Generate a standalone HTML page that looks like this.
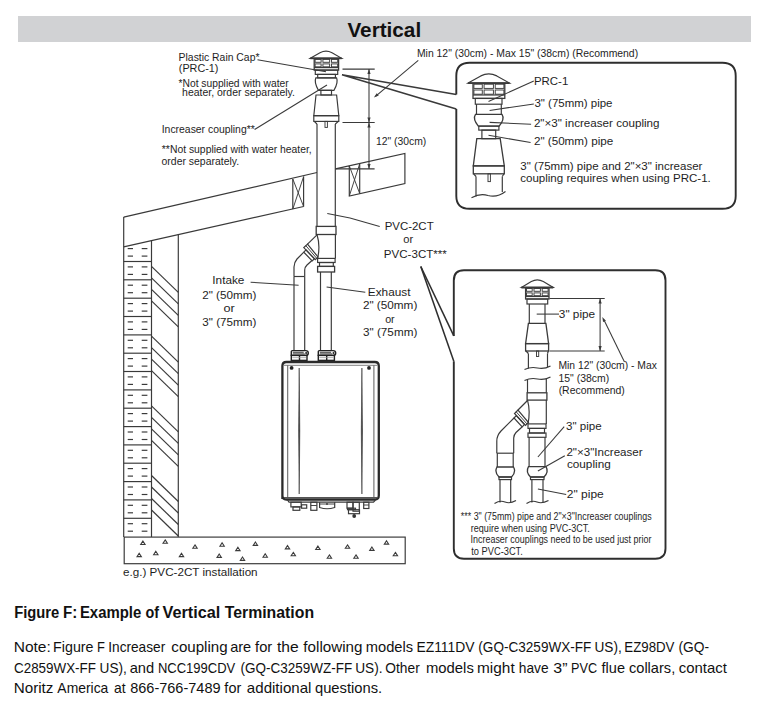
<!DOCTYPE html>
<html><head><meta charset="utf-8"><style>
html,body{margin:0;padding:0;background:#fff;}
svg{display:block;font-family:"Liberation Sans",sans-serif;}
</style></head><body>
<svg width="768" height="707" viewBox="0 0 768 707">
<rect x="18" y="16" width="733" height="26" fill="#d1d2d4"/>
<polyline points="123.7,217.1 317,172.5" stroke="#3a3a3a" stroke-width="1.18" fill="none" stroke-linejoin="miter"/>
<polyline points="123.7,246.8 303.6,206.5" stroke="#3a3a3a" stroke-width="1.18" fill="none" stroke-linejoin="miter"/>
<polyline points="292.8,179 292.8,209.1" stroke="#3a3a3a" stroke-width="1.18" fill="none" stroke-linejoin="miter"/>
<polyline points="303.6,176.6 303.6,206.5" stroke="#3a3a3a" stroke-width="1.18" fill="none" stroke-linejoin="miter"/>
<line x1="292.8" y1="179" x2="303.6" y2="206.5" stroke="#3a3a3a" stroke-width="0.94"/>
<line x1="303.6" y1="176.6" x2="292.8" y2="209.1" stroke="#3a3a3a" stroke-width="0.94"/>
<polyline points="335.4,168.9 404.9,153.4 404.9,183.5 349.3,196 349.3,165.9" stroke="#3a3a3a" stroke-width="1.18" fill="none" stroke-linejoin="miter"/>
<polyline points="359.7,163.8 359.7,193.5" stroke="#3a3a3a" stroke-width="1.18" fill="none" stroke-linejoin="miter"/>
<line x1="349.3" y1="165.9" x2="359.7" y2="193.5" stroke="#3a3a3a" stroke-width="0.94"/>
<line x1="359.7" y1="163.8" x2="349.3" y2="196" stroke="#3a3a3a" stroke-width="0.94"/>
<line x1="123.7" y1="217.1" x2="123.7" y2="537.1" stroke="#3a3a3a" stroke-width="1.18"/>
<line x1="151.5" y1="240.6" x2="151.5" y2="537.1" stroke="#3a3a3a" stroke-width="1.18"/>
<line x1="178.3" y1="234.6" x2="178.3" y2="537.1" stroke="#3a3a3a" stroke-width="1.18"/>
<line x1="123.7" y1="261.5" x2="151.5" y2="261.5" stroke="#3a3a3a" stroke-width="1.18"/>
<line x1="123.7" y1="279.8" x2="151.5" y2="279.8" stroke="#3a3a3a" stroke-width="1.18"/>
<line x1="123.7" y1="298.2" x2="151.5" y2="298.2" stroke="#3a3a3a" stroke-width="1.18"/>
<line x1="123.7" y1="316.5" x2="151.5" y2="316.5" stroke="#3a3a3a" stroke-width="1.18"/>
<line x1="123.7" y1="334.9" x2="151.5" y2="334.9" stroke="#3a3a3a" stroke-width="1.18"/>
<line x1="123.7" y1="353.2" x2="151.5" y2="353.2" stroke="#3a3a3a" stroke-width="1.18"/>
<line x1="123.7" y1="371.5" x2="151.5" y2="371.5" stroke="#3a3a3a" stroke-width="1.18"/>
<line x1="123.7" y1="389.9" x2="151.5" y2="389.9" stroke="#3a3a3a" stroke-width="1.18"/>
<line x1="123.7" y1="408.2" x2="151.5" y2="408.2" stroke="#3a3a3a" stroke-width="1.18"/>
<line x1="123.7" y1="426.6" x2="151.5" y2="426.6" stroke="#3a3a3a" stroke-width="1.18"/>
<line x1="123.7" y1="444.9" x2="151.5" y2="444.9" stroke="#3a3a3a" stroke-width="1.18"/>
<line x1="123.7" y1="463.2" x2="151.5" y2="463.2" stroke="#3a3a3a" stroke-width="1.18"/>
<line x1="123.7" y1="481.6" x2="151.5" y2="481.6" stroke="#3a3a3a" stroke-width="1.18"/>
<line x1="123.7" y1="499.9" x2="151.5" y2="499.9" stroke="#3a3a3a" stroke-width="1.18"/>
<line x1="123.7" y1="518.3" x2="151.5" y2="518.3" stroke="#3a3a3a" stroke-width="1.18"/>
<line x1="127.7" y1="248.6" x2="133" y2="248.6" stroke="#3a3a3a" stroke-width="1.18"/>
<line x1="141.7" y1="248.6" x2="147.4" y2="248.6" stroke="#3a3a3a" stroke-width="1.18"/>
<line x1="127.7" y1="256.1" x2="133" y2="256.1" stroke="#3a3a3a" stroke-width="1.18"/>
<line x1="141.7" y1="256.1" x2="147.4" y2="256.1" stroke="#3a3a3a" stroke-width="1.18"/>
<line x1="127.7" y1="266.9" x2="133" y2="266.9" stroke="#3a3a3a" stroke-width="1.18"/>
<line x1="141.7" y1="266.9" x2="147.4" y2="266.9" stroke="#3a3a3a" stroke-width="1.18"/>
<line x1="127.7" y1="274.4" x2="133" y2="274.4" stroke="#3a3a3a" stroke-width="1.18"/>
<line x1="141.7" y1="274.4" x2="147.4" y2="274.4" stroke="#3a3a3a" stroke-width="1.18"/>
<line x1="127.7" y1="285.2" x2="133" y2="285.2" stroke="#3a3a3a" stroke-width="1.18"/>
<line x1="141.7" y1="285.2" x2="147.4" y2="285.2" stroke="#3a3a3a" stroke-width="1.18"/>
<line x1="127.7" y1="292.7" x2="133" y2="292.7" stroke="#3a3a3a" stroke-width="1.18"/>
<line x1="141.7" y1="292.7" x2="147.4" y2="292.7" stroke="#3a3a3a" stroke-width="1.18"/>
<line x1="127.7" y1="303.6" x2="133" y2="303.6" stroke="#3a3a3a" stroke-width="1.18"/>
<line x1="141.7" y1="303.6" x2="147.4" y2="303.6" stroke="#3a3a3a" stroke-width="1.18"/>
<line x1="127.7" y1="311.1" x2="133" y2="311.1" stroke="#3a3a3a" stroke-width="1.18"/>
<line x1="141.7" y1="311.1" x2="147.4" y2="311.1" stroke="#3a3a3a" stroke-width="1.18"/>
<line x1="127.7" y1="321.9" x2="133" y2="321.9" stroke="#3a3a3a" stroke-width="1.18"/>
<line x1="141.7" y1="321.9" x2="147.4" y2="321.9" stroke="#3a3a3a" stroke-width="1.18"/>
<line x1="127.7" y1="329.4" x2="133" y2="329.4" stroke="#3a3a3a" stroke-width="1.18"/>
<line x1="141.7" y1="329.4" x2="147.4" y2="329.4" stroke="#3a3a3a" stroke-width="1.18"/>
<line x1="127.7" y1="340.3" x2="133" y2="340.3" stroke="#3a3a3a" stroke-width="1.18"/>
<line x1="141.7" y1="340.3" x2="147.4" y2="340.3" stroke="#3a3a3a" stroke-width="1.18"/>
<line x1="127.7" y1="347.8" x2="133" y2="347.8" stroke="#3a3a3a" stroke-width="1.18"/>
<line x1="141.7" y1="347.8" x2="147.4" y2="347.8" stroke="#3a3a3a" stroke-width="1.18"/>
<line x1="127.7" y1="358.6" x2="133" y2="358.6" stroke="#3a3a3a" stroke-width="1.18"/>
<line x1="141.7" y1="358.6" x2="147.4" y2="358.6" stroke="#3a3a3a" stroke-width="1.18"/>
<line x1="127.7" y1="366.1" x2="133" y2="366.1" stroke="#3a3a3a" stroke-width="1.18"/>
<line x1="141.7" y1="366.1" x2="147.4" y2="366.1" stroke="#3a3a3a" stroke-width="1.18"/>
<line x1="127.7" y1="376.9" x2="133" y2="376.9" stroke="#3a3a3a" stroke-width="1.18"/>
<line x1="141.7" y1="376.9" x2="147.4" y2="376.9" stroke="#3a3a3a" stroke-width="1.18"/>
<line x1="127.7" y1="384.4" x2="133" y2="384.4" stroke="#3a3a3a" stroke-width="1.18"/>
<line x1="141.7" y1="384.4" x2="147.4" y2="384.4" stroke="#3a3a3a" stroke-width="1.18"/>
<line x1="127.7" y1="395.3" x2="133" y2="395.3" stroke="#3a3a3a" stroke-width="1.18"/>
<line x1="141.7" y1="395.3" x2="147.4" y2="395.3" stroke="#3a3a3a" stroke-width="1.18"/>
<line x1="127.7" y1="402.8" x2="133" y2="402.8" stroke="#3a3a3a" stroke-width="1.18"/>
<line x1="141.7" y1="402.8" x2="147.4" y2="402.8" stroke="#3a3a3a" stroke-width="1.18"/>
<line x1="127.7" y1="413.6" x2="133" y2="413.6" stroke="#3a3a3a" stroke-width="1.18"/>
<line x1="141.7" y1="413.6" x2="147.4" y2="413.6" stroke="#3a3a3a" stroke-width="1.18"/>
<line x1="127.7" y1="421.1" x2="133" y2="421.1" stroke="#3a3a3a" stroke-width="1.18"/>
<line x1="141.7" y1="421.1" x2="147.4" y2="421.1" stroke="#3a3a3a" stroke-width="1.18"/>
<line x1="127.7" y1="432.0" x2="133" y2="432.0" stroke="#3a3a3a" stroke-width="1.18"/>
<line x1="141.7" y1="432.0" x2="147.4" y2="432.0" stroke="#3a3a3a" stroke-width="1.18"/>
<line x1="127.7" y1="439.5" x2="133" y2="439.5" stroke="#3a3a3a" stroke-width="1.18"/>
<line x1="141.7" y1="439.5" x2="147.4" y2="439.5" stroke="#3a3a3a" stroke-width="1.18"/>
<line x1="127.7" y1="450.3" x2="133" y2="450.3" stroke="#3a3a3a" stroke-width="1.18"/>
<line x1="141.7" y1="450.3" x2="147.4" y2="450.3" stroke="#3a3a3a" stroke-width="1.18"/>
<line x1="127.7" y1="457.8" x2="133" y2="457.8" stroke="#3a3a3a" stroke-width="1.18"/>
<line x1="141.7" y1="457.8" x2="147.4" y2="457.8" stroke="#3a3a3a" stroke-width="1.18"/>
<line x1="127.7" y1="468.6" x2="133" y2="468.6" stroke="#3a3a3a" stroke-width="1.18"/>
<line x1="141.7" y1="468.6" x2="147.4" y2="468.6" stroke="#3a3a3a" stroke-width="1.18"/>
<line x1="127.7" y1="476.1" x2="133" y2="476.1" stroke="#3a3a3a" stroke-width="1.18"/>
<line x1="141.7" y1="476.1" x2="147.4" y2="476.1" stroke="#3a3a3a" stroke-width="1.18"/>
<line x1="127.7" y1="487.0" x2="133" y2="487.0" stroke="#3a3a3a" stroke-width="1.18"/>
<line x1="141.7" y1="487.0" x2="147.4" y2="487.0" stroke="#3a3a3a" stroke-width="1.18"/>
<line x1="127.7" y1="494.5" x2="133" y2="494.5" stroke="#3a3a3a" stroke-width="1.18"/>
<line x1="141.7" y1="494.5" x2="147.4" y2="494.5" stroke="#3a3a3a" stroke-width="1.18"/>
<line x1="127.7" y1="505.3" x2="133" y2="505.3" stroke="#3a3a3a" stroke-width="1.18"/>
<line x1="141.7" y1="505.3" x2="147.4" y2="505.3" stroke="#3a3a3a" stroke-width="1.18"/>
<line x1="127.7" y1="512.8" x2="133" y2="512.8" stroke="#3a3a3a" stroke-width="1.18"/>
<line x1="141.7" y1="512.8" x2="147.4" y2="512.8" stroke="#3a3a3a" stroke-width="1.18"/>
<line x1="127.7" y1="523.7" x2="133" y2="523.7" stroke="#3a3a3a" stroke-width="1.18"/>
<line x1="141.7" y1="523.7" x2="147.4" y2="523.7" stroke="#3a3a3a" stroke-width="1.18"/>
<line x1="127.7" y1="531.2" x2="133" y2="531.2" stroke="#3a3a3a" stroke-width="1.18"/>
<line x1="141.7" y1="531.2" x2="147.4" y2="531.2" stroke="#3a3a3a" stroke-width="1.18"/>
<line x1="151.5" y1="266.4" x2="178.3" y2="292.4" stroke="#3a3a3a" stroke-width="1.18"/>
<line x1="151.5" y1="277.9" x2="178.3" y2="303.9" stroke="#3a3a3a" stroke-width="1.18"/>
<line x1="151.5" y1="289.4" x2="178.3" y2="315.4" stroke="#3a3a3a" stroke-width="1.18"/>
<line x1="151.5" y1="300.9" x2="178.3" y2="326.9" stroke="#3a3a3a" stroke-width="1.18"/>
<line x1="151.5" y1="336.1" x2="178.3" y2="362.1" stroke="#3a3a3a" stroke-width="1.18"/>
<line x1="151.5" y1="347.6" x2="178.3" y2="373.6" stroke="#3a3a3a" stroke-width="1.18"/>
<line x1="151.5" y1="359.1" x2="178.3" y2="385.1" stroke="#3a3a3a" stroke-width="1.18"/>
<line x1="151.5" y1="370.6" x2="178.3" y2="396.6" stroke="#3a3a3a" stroke-width="1.18"/>
<line x1="151.5" y1="405.8" x2="178.3" y2="431.8" stroke="#3a3a3a" stroke-width="1.18"/>
<line x1="151.5" y1="417.3" x2="178.3" y2="443.3" stroke="#3a3a3a" stroke-width="1.18"/>
<line x1="151.5" y1="428.8" x2="178.3" y2="454.8" stroke="#3a3a3a" stroke-width="1.18"/>
<line x1="151.5" y1="440.3" x2="178.3" y2="466.3" stroke="#3a3a3a" stroke-width="1.18"/>
<line x1="151.5" y1="475.5" x2="178.3" y2="501.5" stroke="#3a3a3a" stroke-width="1.18"/>
<line x1="151.5" y1="487.0" x2="178.3" y2="513.0" stroke="#3a3a3a" stroke-width="1.18"/>
<line x1="151.5" y1="498.5" x2="178.3" y2="524.5" stroke="#3a3a3a" stroke-width="1.18"/>
<line x1="151.5" y1="510.0" x2="178.3" y2="536.0" stroke="#3a3a3a" stroke-width="1.18"/>
<rect x="124.2" y="537.1" width="281" height="26.6" rx="0" stroke="#3a3a3a" stroke-width="1.18" fill="none"/>
<polygon points="142.9,541.1 145.1,544.5 140.70000000000002,544.5" stroke="#3a3a3a" stroke-width="1.06" fill="none" stroke-linejoin="miter"/>
<polygon points="165.2,539.9000000000001 167.39999999999998,543.3000000000001 163.0,543.3000000000001" stroke="#3a3a3a" stroke-width="1.06" fill="none" stroke-linejoin="miter"/>
<polygon points="195,544.9000000000001 197.2,548.3000000000001 192.8,548.3000000000001" stroke="#3a3a3a" stroke-width="1.06" fill="none" stroke-linejoin="miter"/>
<polygon points="222.1,542.8000000000001 224.29999999999998,546.2 219.9,546.2" stroke="#3a3a3a" stroke-width="1.06" fill="none" stroke-linejoin="miter"/>
<polygon points="237.9,547.2 240.1,550.6 235.70000000000002,550.6" stroke="#3a3a3a" stroke-width="1.06" fill="none" stroke-linejoin="miter"/>
<polygon points="255.4,541.95 257.6,545.35 253.20000000000002,545.35" stroke="#3a3a3a" stroke-width="1.06" fill="none" stroke-linejoin="miter"/>
<polygon points="139.2,553.2 141.39999999999998,556.6 137.0,556.6" stroke="#3a3a3a" stroke-width="1.06" fill="none" stroke-linejoin="miter"/>
<polygon points="155.8,551.3000000000001 158.0,554.7 153.60000000000002,554.7" stroke="#3a3a3a" stroke-width="1.06" fill="none" stroke-linejoin="miter"/>
<polygon points="181.5,553.2 183.7,556.6 179.3,556.6" stroke="#3a3a3a" stroke-width="1.06" fill="none" stroke-linejoin="miter"/>
<polygon points="219.2,554.0 221.39999999999998,557.4 217.0,557.4" stroke="#3a3a3a" stroke-width="1.06" fill="none" stroke-linejoin="miter"/>
<polygon points="242.5,556.95 244.7,560.35 240.3,560.35" stroke="#3a3a3a" stroke-width="1.06" fill="none" stroke-linejoin="miter"/>
<polygon points="265.2,553.8000000000001 267.4,557.2 263.0,557.2" stroke="#3a3a3a" stroke-width="1.06" fill="none" stroke-linejoin="miter"/>
<polygon points="287.5,545.5 289.7,548.9 285.3,548.9" stroke="#3a3a3a" stroke-width="1.06" fill="none" stroke-linejoin="miter"/>
<polygon points="293.3,552.4000000000001 295.5,555.8000000000001 291.1,555.8000000000001" stroke="#3a3a3a" stroke-width="1.06" fill="none" stroke-linejoin="miter"/>
<polygon points="317.9,546.1 320.09999999999997,549.5 315.7,549.5" stroke="#3a3a3a" stroke-width="1.06" fill="none" stroke-linejoin="miter"/>
<polygon points="329.4,554.9000000000001 331.59999999999997,558.3000000000001 327.2,558.3000000000001" stroke="#3a3a3a" stroke-width="1.06" fill="none" stroke-linejoin="miter"/>
<polygon points="347.5,544.9000000000001 349.7,548.3000000000001 345.3,548.3000000000001" stroke="#3a3a3a" stroke-width="1.06" fill="none" stroke-linejoin="miter"/>
<polygon points="356,554.9000000000001 358.2,558.3000000000001 353.8,558.3000000000001" stroke="#3a3a3a" stroke-width="1.06" fill="none" stroke-linejoin="miter"/>
<polygon points="371.9,546.95 374.09999999999997,550.35 369.7,550.35" stroke="#3a3a3a" stroke-width="1.06" fill="none" stroke-linejoin="miter"/>
<polygon points="386.5,540.7 388.7,544.1 384.3,544.1" stroke="#3a3a3a" stroke-width="1.06" fill="none" stroke-linejoin="miter"/>
<polygon points="395.4,552.4000000000001 397.59999999999997,555.8000000000001 393.2,555.8000000000001" stroke="#3a3a3a" stroke-width="1.06" fill="none" stroke-linejoin="miter"/>
<path d="M310.3,58.3 L320,52.68 Q326,49.56 332,52.68 L341.7,58.3 Z" stroke="#3a3a3a" stroke-width="1.18" fill="none"/>
<line x1="310.3" y1="58.3" x2="341.7" y2="58.3" stroke="#3a3a3a" stroke-width="1.8"/>
<rect x="314.2" y="58.6" width="24.400000000000034" height="11.499999999999993" rx="0" stroke="#3a3a3a" stroke-width="1.3" fill="none"/>
<line x1="314.2" y1="67.6" x2="338.6" y2="67.6" stroke="#3a3a3a" stroke-width="1.18"/>
<rect x="315.1" y="59.4" width="6.01" height="2.9" rx="0" stroke="#3a3a3a" stroke-width="0.94" fill="none"/>
<rect x="315.1" y="63.9" width="6.01" height="2.9" rx="0" stroke="#3a3a3a" stroke-width="0.94" fill="none"/>
<rect x="322.91" y="59.4" width="6.74" height="2.9" rx="0" stroke="#3a3a3a" stroke-width="0.94" fill="none"/>
<rect x="322.91" y="63.9" width="6.74" height="2.9" rx="0" stroke="#3a3a3a" stroke-width="0.94" fill="none"/>
<rect x="331.45" y="59.4" width="6.25" height="2.9" rx="0" stroke="#3a3a3a" stroke-width="0.94" fill="none"/>
<rect x="331.45" y="63.9" width="6.25" height="2.9" rx="0" stroke="#3a3a3a" stroke-width="0.94" fill="none"/>
<rect x="315.3" y="70.1" width="22.4" height="4.3" rx="0" stroke="#3a3a3a" stroke-width="1.18" fill="none"/>
<rect x="317.7" y="74.4" width="17.7" height="3.5" rx="0" stroke="#3a3a3a" stroke-width="1.18" fill="none"/>
<path d="M315.8,77.9 C314.8,80 315,84 318.4,90.3 L334,90.3 C337.4,84 337.6,80 336.6,77.9 Z" stroke="#3a3a3a" stroke-width="1.18" fill="none"/>
<rect x="320.9" y="90.3" width="10.6" height="4.7" rx="0" stroke="#3a3a3a" stroke-width="1.18" fill="none"/>
<polygon points="316,95 336.6,95 338.8,115.7 313.8,115.7" stroke="#3a3a3a" stroke-width="1.18" fill="none" stroke-linejoin="miter"/>
<rect x="313.8" y="115.7" width="25" height="5.7" rx="0" stroke="#3a3a3a" stroke-width="1.18" fill="none"/>
<line x1="317" y1="124" x2="317" y2="226.4" stroke="#3a3a3a" stroke-width="1.18"/>
<line x1="335.3" y1="124" x2="335.3" y2="226.4" stroke="#3a3a3a" stroke-width="1.18"/>
<polyline points="314.2,121.4 317,124" stroke="#3a3a3a" stroke-width="1.18" fill="none" stroke-linejoin="miter"/>
<polyline points="338.4,121.4 335.3,124" stroke="#3a3a3a" stroke-width="1.18" fill="none" stroke-linejoin="miter"/>
<rect x="325" y="121.4" width="2.4" height="6" rx="0" stroke="#3a3a3a" stroke-width="0.94" fill="none"/>
<line x1="342.5" y1="69.1" x2="374.7" y2="69.1" stroke="#3a3a3a" stroke-width="1.06"/>
<line x1="342.5" y1="122.5" x2="374.7" y2="122.5" stroke="#3a3a3a" stroke-width="1.06"/>
<line x1="335.4" y1="168.9" x2="374.6" y2="168.9" stroke="#3a3a3a" stroke-width="1.06"/>
<line x1="369" y1="69.1" x2="369" y2="168.9" stroke="#3a3a3a" stroke-width="1.06"/>
<polygon points="369,69.1 370.60,74.10 367.40,74.10" fill="#3a3a3a"/>
<polygon points="369,122.5 367.40,117.50 370.60,117.50" fill="#3a3a3a"/>
<polygon points="369,122.5 370.60,127.50 367.40,127.50" fill="#3a3a3a"/>
<polygon points="369,168.9 367.40,163.90 370.60,163.90" fill="#3a3a3a"/>
<polyline points="456.3,94.5 342,74.7 456.3,109" stroke="#3a3a3a" stroke-width="1.6" fill="none" stroke-linejoin="miter"/>
<line x1="418.3" y1="60.3" x2="375.5" y2="96.3" stroke="#3a3a3a" stroke-width="1.06"/>
<polygon points="373.9,97.6 376.70,93.16 378.76,95.61" fill="#3a3a3a"/>
<line x1="257.5" y1="59.8" x2="326" y2="71.8" stroke="#3a3a3a" stroke-width="1.06"/>
<line x1="254.6" y1="129.5" x2="327" y2="85" stroke="#3a3a3a" stroke-width="1.06"/>
<rect x="316.2" y="226.4" width="19.8" height="8.1" rx="0" stroke="#3a3a3a" stroke-width="1.3" fill="none"/>
<line x1="335.4" y1="234.5" x2="335.4" y2="258.4" stroke="#3a3a3a" stroke-width="1.18"/>
<path d="M317,234.5 Q320.5,246 317.6,258.4" stroke="#3a3a3a" stroke-width="1.18" fill="none"/>
<path d="M317,234.8 L307.5,244.1" stroke="#3a3a3a" stroke-width="1.18" fill="none"/>
<polygon points="307.5,244.1 303.8,247.6 315.3,259.7 318,257" stroke="#3a3a3a" stroke-width="1.18" fill="none" stroke-linejoin="miter"/>
<line x1="305.8" y1="245.6" x2="316.6" y2="258.2" stroke="#3a3a3a" stroke-width="0.94"/>
<polygon points="303.8,252.2 306,249.9 314.4,258.7 312.2,260.9" stroke="#3a3a3a" stroke-width="1.18" fill="none" stroke-linejoin="miter"/>
<path d="M303.8,252.2 L297,259 Q294,262.5 294,267 L294,276.5" stroke="#3a3a3a" stroke-width="1.18" fill="none"/>
<path d="M311.7,260.7 L307,265 Q304.7,267.2 304.7,270 L304.7,276.5" stroke="#3a3a3a" stroke-width="1.18" fill="none"/>
<line x1="294" y1="276.5" x2="304.7" y2="276.5" stroke="#3a3a3a" stroke-width="1.18"/>
<rect x="317.6" y="258.4" width="17.5" height="4.1" rx="0" stroke="#3a3a3a" stroke-width="1.18" fill="none"/>
<rect x="319.5" y="262.5" width="13.8" height="3.9" rx="0" stroke="#3a3a3a" stroke-width="1.18" fill="none"/>
<rect x="317.6" y="266.4" width="17" height="5.6" rx="0" stroke="#3a3a3a" stroke-width="1.3" fill="none"/>
<line x1="294" y1="276.5" x2="294" y2="350.5" stroke="#3a3a3a" stroke-width="1.18"/>
<line x1="304.7" y1="276.5" x2="304.7" y2="350.5" stroke="#3a3a3a" stroke-width="1.18"/>
<line x1="320.5" y1="272" x2="320.5" y2="350.5" stroke="#3a3a3a" stroke-width="1.18"/>
<line x1="331.3" y1="272" x2="331.3" y2="350.5" stroke="#3a3a3a" stroke-width="1.18"/>
<path d="M291.3,355.4 L291.3,351.5 Q291.3,350.6 292.3,350.6 L305.7,350.6 Q308.3,350.6 308.3,352.9 Q308.3,355.4 305.7,355.4 Z" stroke="#222" stroke-width="1.42" fill="none"/>
<line x1="292.8" y1="352.3" x2="303.7" y2="352.3" stroke="#444" stroke-width="1.06"/>
<line x1="292.8" y1="353.9" x2="304.7" y2="353.9" stroke="#444" stroke-width="1.06"/>
<circle cx="306.09999999999997" cy="352.9" r="1" fill="#222"/>
<rect x="291.3" y="355.4" width="15.699999999999978" height="5" rx="0" stroke="#222" stroke-width="1.42" fill="none"/>
<line x1="299.5" y1="355.4" x2="299.5" y2="360.4" stroke="#222" stroke-width="1.42"/>
<line x1="292.3" y1="357.6" x2="306.0" y2="357.6" stroke="#999" stroke-width="0.71"/>
<path d="M318.3,355.4 L318.3,351.5 Q318.3,350.6 319.3,350.6 L333.1,350.6 Q335.70000000000005,350.6 335.70000000000005,352.9 Q335.70000000000005,355.4 333.1,355.4 Z" stroke="#222" stroke-width="1.42" fill="none"/>
<line x1="319.8" y1="352.3" x2="331.1" y2="352.3" stroke="#444" stroke-width="1.06"/>
<line x1="319.8" y1="353.9" x2="332.1" y2="353.9" stroke="#444" stroke-width="1.06"/>
<circle cx="333.5" cy="352.9" r="1" fill="#222"/>
<rect x="318.3" y="355.4" width="16.100000000000012" height="5" rx="0" stroke="#222" stroke-width="1.42" fill="none"/>
<line x1="326.70000000000005" y1="355.4" x2="326.70000000000005" y2="360.4" stroke="#222" stroke-width="1.42"/>
<line x1="319.3" y1="357.6" x2="333.40000000000003" y2="357.6" stroke="#999" stroke-width="0.71"/>
<path d="M282.4,499 L282.4,366 Q282.4,362 286.4,362 L374.8,362 Q378.8,362 378.8,366 L378.8,495.5 Q378.8,499.5 374.8,499.5 L286.4,499.5 Q282.4,499.5 282.4,495.5 Z" stroke="#2a2a2a" stroke-width="2.3" fill="none"/>
<line x1="284" y1="365.3" x2="377.5" y2="365.3" stroke="#777" stroke-width="0.94"/>
<line x1="287.7" y1="365.3" x2="287.7" y2="497.6" stroke="#666" stroke-width="1.06"/>
<line x1="373.9" y1="365.3" x2="373.9" y2="497.6" stroke="#666" stroke-width="1.06"/>
<line x1="284" y1="497.6" x2="377.5" y2="497.6" stroke="#555" stroke-width="1.06"/>
<circle cx="291.6" cy="367.9" r="1.9" fill="#222"/><circle cx="369" cy="367.9" r="1.9" fill="#222"/>
<path d="M299.2,368 Q300.4,431 299.2,494 Q298,431 299.2,368 Z" stroke="#333" stroke-width="0.59" fill="#333"/>
<path d="M361.9,368 Q363.1,431 361.9,494 Q360.7,431 361.9,368 Z" stroke="#333" stroke-width="0.59" fill="#333"/>
<polyline points="287.5,500 289,502.2 373.5,502.2 375.5,500" stroke="#3a3a3a" stroke-width="1.18" fill="none" stroke-linejoin="miter"/>
<rect x="290.9" y="502.2" width="10.3" height="4.7" rx="0" stroke="#3a3a3a" stroke-width="1.18" fill="none"/>
<rect x="293" y="506.9" width="6.8" height="3.4" rx="0" stroke="#3a3a3a" stroke-width="1.18" fill="none"/>
<rect x="301.6" y="504.8" width="5.1" height="3.4" rx="0" stroke="#3a3a3a" stroke-width="1.18" fill="none"/>
<rect x="310.8" y="502.2" width="6.1" height="8.1" rx="0" stroke="#3a3a3a" stroke-width="1.18" fill="none"/>
<line x1="310.8" y1="505.5" x2="316.9" y2="505.5" stroke="#3a3a3a" stroke-width="0.94"/>
<path d="M319.6,502.2 L319.6,507.5 Q327,510 334.7,507.5 L334.7,502.2" stroke="#3a3a3a" stroke-width="1.18" fill="none"/>
<line x1="319.6" y1="504" x2="334.7" y2="504" stroke="#3a3a3a" stroke-width="0.94"/>
<circle cx="327" cy="504" r="0.9" fill="#333"/>
<rect x="347" y="502.2" width="6" height="6" rx="0" stroke="#3a3a3a" stroke-width="1.18" fill="none"/>
<rect x="353" y="502.2" width="6.3" height="9" rx="0" stroke="#3a3a3a" stroke-width="1.18" fill="none"/>
<rect x="347.5" y="508.2" width="8" height="1.5" rx="0" stroke="#3a3a3a" stroke-width="1.18" fill="none"/>
<rect x="348.5" y="509.7" width="11" height="4" rx="0" stroke="#3a3a3a" stroke-width="1.18" fill="none"/>
<circle cx="354.2" cy="516" r="1.9" fill="#333"/>
<rect x="363.7" y="502.2" width="5.2" height="6.3" rx="0" stroke="#3a3a3a" stroke-width="1.18" fill="none"/>
<line x1="363.7" y1="505" x2="368.9" y2="505" stroke="#3a3a3a" stroke-width="0.94"/>
<path d="M456.3,94.5 L456.3,76 Q456.3,62.8 469.5,62.8 L722.5,62.8 Q735.7,62.8 735.7,76 L735.7,196 Q735.7,208.8 722.5,208.8 L469.5,208.8 Q456.3,208.8 456.3,196 L456.3,109" stroke="#2e2e2e" stroke-width="1.9" fill="none"/>
<path d="M468.1,83.1 L480.8,75.90 Q488.8,71.90 496.8,75.90 L509.5,83.1 Z" stroke="#3a3a3a" stroke-width="1.18" fill="none"/>
<line x1="468.1" y1="83.1" x2="509.5" y2="83.1" stroke="#3a3a3a" stroke-width="1.8"/>
<rect x="473" y="83.4" width="31.80000000000001" height="15.0" rx="0" stroke="#3a3a3a" stroke-width="1.3" fill="none"/>
<line x1="473" y1="95" x2="504.8" y2="95" stroke="#3a3a3a" stroke-width="1.18"/>
<rect x="473.9" y="84.2" width="8.38" height="4.2" rx="0" stroke="#3a3a3a" stroke-width="0.94" fill="none"/>
<rect x="473.9" y="90.0" width="8.38" height="4.2" rx="0" stroke="#3a3a3a" stroke-width="0.94" fill="none"/>
<rect x="484.08" y="84.2" width="9.33" height="4.2" rx="0" stroke="#3a3a3a" stroke-width="0.94" fill="none"/>
<rect x="484.08" y="90.0" width="9.33" height="4.2" rx="0" stroke="#3a3a3a" stroke-width="0.94" fill="none"/>
<rect x="495.21" y="84.2" width="8.69" height="4.2" rx="0" stroke="#3a3a3a" stroke-width="0.94" fill="none"/>
<rect x="495.21" y="90.0" width="8.69" height="4.2" rx="0" stroke="#3a3a3a" stroke-width="0.94" fill="none"/>
<rect x="475.3" y="98.4" width="26.7" height="5.8" rx="0" stroke="#3a3a3a" stroke-width="1.18" fill="none"/>
<line x1="476.5" y1="104.2" x2="476.5" y2="114.3" stroke="#3a3a3a" stroke-width="1.18"/>
<line x1="501.3" y1="104.2" x2="501.3" y2="114.3" stroke="#3a3a3a" stroke-width="1.18"/>
<path d="M475.5,114.3 C474,116.5 474.3,121 478.3,126.1 L499.2,126.1 C503.2,121 503.5,116.5 502,114.3 Z" stroke="#3a3a3a" stroke-width="1.3" fill="none"/>
<rect x="478.8" y="126.1" width="20.1" height="4" rx="0" stroke="#3a3a3a" stroke-width="1.18" fill="none"/>
<rect x="481.9" y="130.1" width="13.8" height="8.6" rx="0" stroke="#3a3a3a" stroke-width="1.18" fill="none"/>
<polygon points="476.8,138.7 500.2,138.7 504.3,165.9 473.3,165.9" stroke="#3a3a3a" stroke-width="1.3" fill="none" stroke-linejoin="miter"/>
<rect x="473.3" y="165.9" width="31" height="7.9" rx="0" stroke="#3a3a3a" stroke-width="1.3" fill="none"/>
<line x1="476" y1="176.5" x2="476" y2="196.5" stroke="#3a3a3a" stroke-width="1.18"/>
<line x1="502.3" y1="176.5" x2="502.3" y2="192" stroke="#3a3a3a" stroke-width="1.18"/>
<polyline points="473.6,173.8 476,176.5" stroke="#3a3a3a" stroke-width="1.18" fill="none" stroke-linejoin="miter"/>
<polyline points="504,173.8 502.3,176.5" stroke="#3a3a3a" stroke-width="1.18" fill="none" stroke-linejoin="miter"/>
<rect x="488" y="173.8" width="2.4" height="7.8" rx="0" stroke="#3a3a3a" stroke-width="0.94" fill="none"/>
<path d="M471.5,197.8 Q480,193 488,195.5 Q497,198 505.5,191.5" stroke="#3a3a3a" stroke-width="1.18" fill="none"/>
<line x1="533.8" y1="81" x2="488.5" y2="101.4" stroke="#3a3a3a" stroke-width="1.06"/>
<line x1="533.8" y1="103.9" x2="489.6" y2="110.4" stroke="#3a3a3a" stroke-width="1.06"/>
<line x1="531.1" y1="124.2" x2="489.6" y2="122.4" stroke="#3a3a3a" stroke-width="1.06"/>
<line x1="530.6" y1="142.4" x2="488.5" y2="135.3" stroke="#3a3a3a" stroke-width="1.06"/>
<path d="M453.8,335.9 L453.8,280.5 Q453.8,270.3 464,270.3 L655.3,270.3 Q665.5,270.3 665.5,280.5 L665.5,548.6 Q665.5,558.8 655.3,558.8 L464,558.8 Q453.8,558.8 453.8,548.6 L453.8,361.3" stroke="#2e2e2e" stroke-width="1.9" fill="none"/>
<line x1="420.8" y1="266.5" x2="453.8" y2="335.9" stroke="#2e2e2e" stroke-width="1.53"/>
<line x1="420.8" y1="266.5" x2="453.8" y2="361.3" stroke="#2e2e2e" stroke-width="1.53"/>
<path d="M521.4,287.5 L531.3,281.52 Q537.3,278.20 543.3,281.52 L553.1999999999999,287.5 Z" stroke="#3a3a3a" stroke-width="1.18" fill="none"/>
<line x1="521.4" y1="287.5" x2="553.1999999999999" y2="287.5" stroke="#3a3a3a" stroke-width="1.8"/>
<rect x="525.6" y="287.7" width="23.399999999999977" height="11.300000000000011" rx="0" stroke="#3a3a3a" stroke-width="1.3" fill="none"/>
<line x1="525.6" y1="296.5" x2="549" y2="296.5" stroke="#3a3a3a" stroke-width="1.18"/>
<rect x="526.5" y="288.5" width="5.69" height="2.8" rx="0" stroke="#3a3a3a" stroke-width="0.94" fill="none"/>
<rect x="526.5" y="292.9" width="5.69" height="2.8" rx="0" stroke="#3a3a3a" stroke-width="0.94" fill="none"/>
<rect x="533.99" y="288.5" width="6.39" height="2.8" rx="0" stroke="#3a3a3a" stroke-width="0.94" fill="none"/>
<rect x="533.99" y="292.9" width="6.39" height="2.8" rx="0" stroke="#3a3a3a" stroke-width="0.94" fill="none"/>
<rect x="542.18" y="288.5" width="5.92" height="2.8" rx="0" stroke="#3a3a3a" stroke-width="0.94" fill="none"/>
<rect x="542.18" y="292.9" width="5.92" height="2.8" rx="0" stroke="#3a3a3a" stroke-width="0.94" fill="none"/>
<rect x="527" y="299" width="20.7" height="5" rx="0" stroke="#3a3a3a" stroke-width="1.18" fill="none"/>
<line x1="529.3" y1="304" x2="529.3" y2="323.3" stroke="#3a3a3a" stroke-width="1.18"/>
<line x1="545" y1="304" x2="545" y2="323.3" stroke="#3a3a3a" stroke-width="1.18"/>
<polygon points="528.4,323.3 545.9,323.3 548.6,343.6 525.6,343.6" stroke="#3a3a3a" stroke-width="1.3" fill="none" stroke-linejoin="miter"/>
<rect x="525.6" y="343.6" width="23" height="7.4" rx="0" stroke="#3a3a3a" stroke-width="1.3" fill="none"/>
<line x1="528.4" y1="353.5" x2="528.4" y2="368.5" stroke="#3a3a3a" stroke-width="1.18"/>
<line x1="547.5" y1="353.5" x2="547.5" y2="367" stroke="#3a3a3a" stroke-width="1.18"/>
<polyline points="526,351 528.4,353.5" stroke="#3a3a3a" stroke-width="1.18" fill="none" stroke-linejoin="miter"/>
<polyline points="548.4,351 547.5,353.5" stroke="#3a3a3a" stroke-width="1.18" fill="none" stroke-linejoin="miter"/>
<rect x="536.5" y="351" width="2.2" height="5.5" rx="0" stroke="#3a3a3a" stroke-width="0.94" fill="none"/>
<path d="M524.5,369.5 Q531,366.5 537.5,368 Q544,369.5 550.5,366" stroke="#3a3a3a" stroke-width="1.18" fill="none"/>
<path d="M524.5,380.5 Q531,377.5 537.5,379 Q544,380.5 550.5,377" stroke="#3a3a3a" stroke-width="1.18" fill="none"/>
<line x1="527.5" y1="379.5" x2="527.5" y2="392.8" stroke="#3a3a3a" stroke-width="1.18"/>
<line x1="546.3" y1="378" x2="546.3" y2="392.8" stroke="#3a3a3a" stroke-width="1.18"/>
<rect x="527.1" y="392.8" width="19.8" height="7.3" rx="0" stroke="#3a3a3a" stroke-width="1.3" fill="none"/>
<line x1="546.3" y1="400.1" x2="546.3" y2="423.9" stroke="#3a3a3a" stroke-width="1.18"/>
<path d="M527.5,400.1 Q530.5,411 528,423.9" stroke="#3a3a3a" stroke-width="1.18" fill="none"/>
<path d="M527.5,400.5 L518,410" stroke="#3a3a3a" stroke-width="1.18" fill="none"/>
<polygon points="518,410 514.5,413.5 525.5,425.5 528.5,422.5" stroke="#3a3a3a" stroke-width="1.18" fill="none" stroke-linejoin="miter"/>
<line x1="516.2" y1="411.8" x2="527" y2="424" stroke="#3a3a3a" stroke-width="0.94"/>
<polygon points="514,418 516.3,415.7 524.5,424.5 522.2,426.8" stroke="#3a3a3a" stroke-width="1.18" fill="none" stroke-linejoin="miter"/>
<path d="M514,418 L501,431 Q496.8,435.5 496.8,441 L496.8,453.2" stroke="#3a3a3a" stroke-width="1.18" fill="none"/>
<path d="M522,427 L516,432.5 Q513.7,435 513.7,438 L513.7,453.2" stroke="#3a3a3a" stroke-width="1.18" fill="none"/>
<line x1="496.8" y1="453.2" x2="513.7" y2="453.2" stroke="#3a3a3a" stroke-width="1.18"/>
<line x1="497.3" y1="453.2" x2="497.3" y2="467" stroke="#3a3a3a" stroke-width="1.18"/>
<line x1="513.2" y1="453.2" x2="513.2" y2="467" stroke="#3a3a3a" stroke-width="1.18"/>
<path d="M497,467 C495,470.5 496,474 499,477 L511.5,477 C514.5,474 515.5,470.5 513.5,467 Z" stroke="#3a3a3a" stroke-width="1.3" fill="none"/>
<rect x="499" y="477" width="12.5" height="2.6" rx="0" stroke="#3a3a3a" stroke-width="1.18" fill="none"/>
<line x1="500" y1="479.6" x2="500" y2="502.5" stroke="#3a3a3a" stroke-width="1.18"/>
<line x1="510.7" y1="479.6" x2="510.7" y2="502.5" stroke="#3a3a3a" stroke-width="1.18"/>
<path d="M494.5,503.5 Q500,500 505,502 Q510,504 516,500.5" stroke="#3a3a3a" stroke-width="1.18" fill="none"/>
<rect x="528" y="423.9" width="18" height="4.5" rx="0" stroke="#3a3a3a" stroke-width="1.18" fill="none"/>
<rect x="529.5" y="428.4" width="15" height="4.6" rx="0" stroke="#3a3a3a" stroke-width="1.18" fill="none"/>
<rect x="528" y="433" width="18" height="4.3" rx="0" stroke="#3a3a3a" stroke-width="1.18" fill="none"/>
<line x1="529.1" y1="437.3" x2="529.1" y2="466.6" stroke="#3a3a3a" stroke-width="1.18"/>
<line x1="545" y1="437.3" x2="545" y2="466.6" stroke="#3a3a3a" stroke-width="1.18"/>
<path d="M528.5,466.6 C526.5,470 527.5,474 530.5,477 L544,477 C547,474 548,470 546,466.6 Z" stroke="#3a3a3a" stroke-width="1.3" fill="none"/>
<rect x="530.5" y="477" width="13.5" height="2.6" rx="0" stroke="#3a3a3a" stroke-width="1.18" fill="none"/>
<line x1="531.9" y1="479.6" x2="531.9" y2="502.5" stroke="#3a3a3a" stroke-width="1.18"/>
<line x1="543" y1="479.6" x2="543" y2="502.5" stroke="#3a3a3a" stroke-width="1.18"/>
<path d="M526.5,503.5 Q532,500 537,502 Q542,504 548.5,500.5" stroke="#3a3a3a" stroke-width="1.18" fill="none"/>
<line x1="549.5" y1="298.5" x2="604.7" y2="298.5" stroke="#3a3a3a" stroke-width="1.06"/>
<line x1="549.5" y1="351" x2="604.7" y2="351" stroke="#3a3a3a" stroke-width="1.06"/>
<line x1="600.1" y1="298.5" x2="600.1" y2="351" stroke="#3a3a3a" stroke-width="1.06"/>
<polygon points="600.1,298.5 601.70,303.50 598.50,303.50" fill="#3a3a3a"/>
<polygon points="600.1,351 598.50,346.00 601.70,346.00" fill="#3a3a3a"/>
<line x1="624.5" y1="362" x2="604" y2="320" stroke="#3a3a3a" stroke-width="1.06"/>
<polygon points="602.3,316.9 605.94,320.69 603.06,322.09" fill="#3a3a3a"/>
<line x1="536.7" y1="314.1" x2="559" y2="314.1" stroke="#3a3a3a" stroke-width="1.06"/>
<line x1="564.2" y1="426.7" x2="537.9" y2="457" stroke="#3a3a3a" stroke-width="1.06"/>
<line x1="564.8" y1="455.8" x2="537.9" y2="471" stroke="#3a3a3a" stroke-width="1.06"/>
<line x1="566.2" y1="494.6" x2="537.9" y2="488.9" stroke="#3a3a3a" stroke-width="1.06"/>
<line x1="350" y1="218" x2="379.7" y2="226.5" stroke="#3a3a3a" stroke-width="1.06"/>
<line x1="327.3" y1="213.4" x2="350" y2="218" stroke="#3a3a3a" stroke-width="1.06"/>
<line x1="250.6" y1="282.2" x2="298.6" y2="285.3" stroke="#3a3a3a" stroke-width="1.06"/>
<line x1="326.6" y1="287" x2="365.3" y2="292.2" stroke="#3a3a3a" stroke-width="1.06"/>
<text x="347.44" y="36.9" font-size="21" textLength="73.72" lengthAdjust="spacingAndGlyphs" font-weight="bold" fill="#111">Vertical</text>
<text x="123.0" y="576" font-size="10.6" textLength="134.62" lengthAdjust="spacingAndGlyphs" fill="#1e1e1e">e.g.) PVC-2CT installation</text>
<text x="533.96" y="85.1" font-size="11.3" textLength="34.29" lengthAdjust="spacingAndGlyphs" fill="#1e1e1e">PRC-1</text>
<text x="534.47" y="107.4" font-size="11.3" textLength="78.04" lengthAdjust="spacingAndGlyphs" fill="#1e1e1e">3" (75mm) pipe</text>
<text x="533.92" y="126.8" font-size="11.3" textLength="125.61" lengthAdjust="spacingAndGlyphs" fill="#1e1e1e">2"×3" increaser coupling</text>
<text x="533.92" y="145" font-size="11.3" textLength="79.3" lengthAdjust="spacingAndGlyphs" fill="#1e1e1e">2" (50mm) pipe</text>
<text x="520.27" y="170.3" font-size="11.3" textLength="182.11" lengthAdjust="spacingAndGlyphs" fill="#1e1e1e">3" (75mm) pipe and 2"×3" increaser</text>
<text x="520.21" y="182" font-size="11.3" textLength="190.62" lengthAdjust="spacingAndGlyphs" fill="#1e1e1e">coupling requires when using PRC-1.</text>
<text x="558.86" y="318.2" font-size="10.8" textLength="36.27" lengthAdjust="spacingAndGlyphs" fill="#1e1e1e">3" pipe</text>
<text x="558.45" y="369.3" font-size="10.8" textLength="98.39" lengthAdjust="spacingAndGlyphs" fill="#1e1e1e">Min 12" (30cm) - Max</text>
<text x="558.52" y="382.2" font-size="10.8" textLength="50.62" lengthAdjust="spacingAndGlyphs" fill="#1e1e1e">15" (38cm)</text>
<text x="558.65" y="394.2" font-size="10.8" textLength="66.18" lengthAdjust="spacingAndGlyphs" fill="#1e1e1e">(Recommend)</text>
<text x="566.07" y="430" font-size="11.3" textLength="35.65" lengthAdjust="spacingAndGlyphs" fill="#1e1e1e">3" pipe</text>
<text x="566.42" y="456.4" font-size="11.3" textLength="76.25" lengthAdjust="spacingAndGlyphs" fill="#1e1e1e">2"×3"Increaser</text>
<text x="566.9" y="467.9" font-size="11.3" textLength="43.84" lengthAdjust="spacingAndGlyphs" fill="#1e1e1e">coupling</text>
<text x="566.8" y="497.7" font-size="11.3" textLength="36.94" lengthAdjust="spacingAndGlyphs" fill="#1e1e1e">2" pipe</text>
<text x="460.85" y="520" font-size="10" textLength="190.76" lengthAdjust="spacingAndGlyphs" fill="#1e1e1e">*** 3" (75mm) pipe and 2"×3"Increaser couplings</text>
<text x="470.81" y="531.8" font-size="10" textLength="119.01" lengthAdjust="spacingAndGlyphs" fill="#1e1e1e">require when using PVC-3CT.</text>
<text x="470.57" y="543.3" font-size="10" textLength="180.86" lengthAdjust="spacingAndGlyphs" fill="#1e1e1e">Increaser couplings need to be used just prior</text>
<text x="471.26" y="555" font-size="10" textLength="51.57" lengthAdjust="spacingAndGlyphs" fill="#1e1e1e">to PVC-3CT.</text>
<text x="178.64" y="61.1" font-size="10.3" textLength="80.83" lengthAdjust="spacingAndGlyphs" fill="#1e1e1e">Plastic Rain Cap*</text>
<text x="178.82" y="71.6" font-size="10.3" textLength="39.64" lengthAdjust="spacingAndGlyphs" fill="#1e1e1e">(PRC-1)</text>
<text x="178.52" y="86.5" font-size="10.3" textLength="110.14" lengthAdjust="spacingAndGlyphs" fill="#1e1e1e">*Not supplied with water</text>
<text x="182.07" y="95.8" font-size="10.3" textLength="112.89" lengthAdjust="spacingAndGlyphs" fill="#1e1e1e">heater, order separately.</text>
<text x="161.74" y="133.3" font-size="10.3" textLength="93.04" lengthAdjust="spacingAndGlyphs" fill="#1e1e1e">Increaser coupling**</text>
<text x="161.82" y="153" font-size="10.3" textLength="149.92" lengthAdjust="spacingAndGlyphs" fill="#1e1e1e">**Not supplied with water heater,</text>
<text x="161.56" y="164.7" font-size="10.3" textLength="77.58" lengthAdjust="spacingAndGlyphs" fill="#1e1e1e">order separately.</text>
<text x="416.94" y="57" font-size="10.6" textLength="221.19" lengthAdjust="spacingAndGlyphs" fill="#1e1e1e">Min 12" (30cm) - Max 15" (38cm) (Recommend)</text>
<text x="376.02" y="144.6" font-size="10.2" textLength="50.31" lengthAdjust="spacingAndGlyphs" fill="#1e1e1e">12" (30cm)</text>
<text x="384.65" y="230.4" font-size="11.8" textLength="49.01" lengthAdjust="spacingAndGlyphs" fill="#1e1e1e">PVC-2CT</text>
<text x="403.33" y="243.3" font-size="11.8" textLength="9.86" lengthAdjust="spacingAndGlyphs" fill="#1e1e1e">or</text>
<text x="383.85" y="257.8" font-size="11.8" textLength="62.94" lengthAdjust="spacingAndGlyphs" fill="#1e1e1e">PVC-3CT***</text>
<text x="212.31" y="284.1" font-size="11.5" textLength="32.11" lengthAdjust="spacingAndGlyphs" fill="#1e1e1e">Intake</text>
<text x="202.22" y="298.6" font-size="11.5" textLength="54.09" lengthAdjust="spacingAndGlyphs" fill="#1e1e1e">2" (50mm)</text>
<text x="223.46" y="311.9" font-size="11.5" textLength="11.25" lengthAdjust="spacingAndGlyphs" fill="#1e1e1e">or</text>
<text x="202.36" y="325.9" font-size="11.5" textLength="53.95" lengthAdjust="spacingAndGlyphs" fill="#1e1e1e">3" (75mm)</text>
<text x="367.83" y="295.8" font-size="11.8" textLength="42.67" lengthAdjust="spacingAndGlyphs" fill="#1e1e1e">Exhaust</text>
<text x="362.91" y="308.7" font-size="11.8" textLength="54.4" lengthAdjust="spacingAndGlyphs" fill="#1e1e1e">2" (50mm)</text>
<text x="385.14" y="322.9" font-size="11.8" textLength="9.53" lengthAdjust="spacingAndGlyphs" fill="#1e1e1e">or</text>
<text x="363.06" y="336.1" font-size="11.8" textLength="54.25" lengthAdjust="spacingAndGlyphs" fill="#1e1e1e">3" (75mm)</text>
<text x="14.2" y="617.9" font-size="16.3" textLength="45.09" lengthAdjust="spacingAndGlyphs" font-weight="bold" fill="#111">Figure</text>
<text x="62.98" y="617.9" font-size="16.3" textLength="14.28" lengthAdjust="spacingAndGlyphs" font-weight="bold" fill="#111">F:</text>
<text x="79.89" y="617.9" font-size="16.3" textLength="61.41" lengthAdjust="spacingAndGlyphs" font-weight="bold" fill="#111">Example</text>
<text x="145.43" y="617.9" font-size="16.3" textLength="13.56" lengthAdjust="spacingAndGlyphs" font-weight="bold" fill="#111">of</text>
<text x="162.48" y="617.9" font-size="16.3" textLength="57.77" lengthAdjust="spacingAndGlyphs" font-weight="bold" fill="#111">Vertical</text>
<text x="224.74" y="617.9" font-size="16.3" textLength="89.32" lengthAdjust="spacingAndGlyphs" font-weight="bold" fill="#111">Termination</text>
<text x="13.72" y="651.9" font-size="14.1" textLength="37.08" lengthAdjust="spacingAndGlyphs" fill="#111">Note:</text>
<text x="53.13" y="651.9" font-size="14.1" textLength="40.31" lengthAdjust="spacingAndGlyphs" fill="#111">Figure</text>
<text x="96.93" y="651.9" font-size="14.1" textLength="7.89" lengthAdjust="spacingAndGlyphs" fill="#111">F</text>
<text x="108.24" y="651.9" font-size="14.1" textLength="56.98" lengthAdjust="spacingAndGlyphs" fill="#111">Increaser</text>
<text x="171.36" y="651.9" font-size="14.1" textLength="56.29" lengthAdjust="spacingAndGlyphs" fill="#111">coupling</text>
<text x="230.18" y="651.9" font-size="14.1" textLength="21.04" lengthAdjust="spacingAndGlyphs" fill="#111">are</text>
<text x="255.08" y="651.9" font-size="14.1" textLength="17.13" lengthAdjust="spacingAndGlyphs" fill="#111">for</text>
<text x="276.97" y="651.9" font-size="14.1" textLength="21.7" lengthAdjust="spacingAndGlyphs" fill="#111">the</text>
<text x="303.37" y="651.9" font-size="14.1" textLength="59.1" lengthAdjust="spacingAndGlyphs" fill="#111">following</text>
<text x="365.81" y="651.9" font-size="14.1" textLength="47.32" lengthAdjust="spacingAndGlyphs" fill="#111">models</text>
<text x="416.46" y="651.9" font-size="14.1" textLength="58.01" lengthAdjust="spacingAndGlyphs" fill="#111">EZ111DV</text>
<text x="478.35" y="651.9" font-size="14.1" textLength="113.01" lengthAdjust="spacingAndGlyphs" fill="#111">(GQ-C3259WX-FF</text>
<text x="594.44" y="651.9" font-size="14.1" textLength="27.29" lengthAdjust="spacingAndGlyphs" fill="#111">US),</text>
<text x="624.31" y="651.9" font-size="14.1" textLength="50.15" lengthAdjust="spacingAndGlyphs" fill="#111">EZ98DV</text>
<text x="678.54" y="651.9" font-size="14.1" textLength="30.57" lengthAdjust="spacingAndGlyphs" fill="#111">(GQ-</text>
<text x="14.03" y="672.6" font-size="14.1" textLength="81.91" lengthAdjust="spacingAndGlyphs" fill="#111">C2859WX-FF</text>
<text x="99.54" y="672.6" font-size="14.1" textLength="27.29" lengthAdjust="spacingAndGlyphs" fill="#111">US),</text>
<text x="129.68" y="672.6" font-size="14.1" textLength="24.45" lengthAdjust="spacingAndGlyphs" fill="#111">and</text>
<text x="157.93" y="672.6" font-size="14.1" textLength="77.32" lengthAdjust="spacingAndGlyphs" fill="#111">NCC199CDV</text>
<text x="240.41" y="672.6" font-size="14.1" textLength="111.74" lengthAdjust="spacingAndGlyphs" fill="#111">(GQ-C3259WZ-FF</text>
<text x="355.24" y="672.6" font-size="14.1" textLength="27.39" lengthAdjust="spacingAndGlyphs" fill="#111">US).</text>
<text x="385.35" y="672.6" font-size="14.1" textLength="34.37" lengthAdjust="spacingAndGlyphs" fill="#111">Other</text>
<text x="426.0" y="672.6" font-size="14.1" textLength="47.84" lengthAdjust="spacingAndGlyphs" fill="#111">models</text>
<text x="477.06" y="672.6" font-size="14.1" textLength="37.66" lengthAdjust="spacingAndGlyphs" fill="#111">might</text>
<text x="518.84" y="672.6" font-size="14.1" textLength="29.76" lengthAdjust="spacingAndGlyphs" fill="#111">have</text>
<text x="553.3" y="672.6" font-size="14.1" textLength="14.18" lengthAdjust="spacingAndGlyphs" fill="#111">3”</text>
<text x="571.06" y="672.6" font-size="14.1" textLength="26.0" lengthAdjust="spacingAndGlyphs" fill="#111">PVC</text>
<text x="601.58" y="672.6" font-size="14.1" textLength="23.47" lengthAdjust="spacingAndGlyphs" fill="#111">flue</text>
<text x="628.98" y="672.6" font-size="14.1" textLength="46.24" lengthAdjust="spacingAndGlyphs" fill="#111">collars,</text>
<text x="678.77" y="672.6" font-size="14.1" textLength="48.13" lengthAdjust="spacingAndGlyphs" fill="#111">contact</text>
<text x="13.75" y="693.3" font-size="14.1" textLength="39.7" lengthAdjust="spacingAndGlyphs" fill="#111">Noritz</text>
<text x="57.37" y="693.3" font-size="14.1" textLength="51.0" lengthAdjust="spacingAndGlyphs" fill="#111">America</text>
<text x="114.11" y="693.3" font-size="14.1" textLength="11.62" lengthAdjust="spacingAndGlyphs" fill="#111">at</text>
<text x="130.18" y="693.3" font-size="14.1" textLength="90.37" lengthAdjust="spacingAndGlyphs" fill="#111">866-766-7489</text>
<text x="224.38" y="693.3" font-size="14.1" textLength="16.83" lengthAdjust="spacingAndGlyphs" fill="#111">for</text>
<text x="246.86" y="693.3" font-size="14.1" textLength="64.54" lengthAdjust="spacingAndGlyphs" fill="#111">additional</text>
<text x="314.97" y="693.3" font-size="14.1" textLength="67.17" lengthAdjust="spacingAndGlyphs" fill="#111">questions.</text>
</svg>
</body></html>
